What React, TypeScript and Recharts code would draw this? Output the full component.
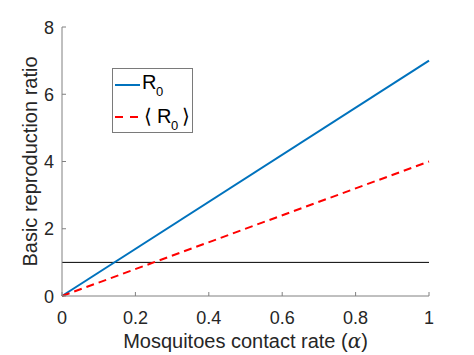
import { LineChart, Line, XAxis, YAxis, ReferenceLine, Legend } from "recharts"

const alpha = [0, 1]
const r0 = [0, 7]
const meanR0 = [0, 4]
const threshold = 1
const xTicks = [0, 0.2, 0.4, 0.6, 0.8, 1]
const yTicks = [0, 2, 4, 6, 8]

const font = "'Liberation Sans', Arial, Helvetica, sans-serif"
const axisGray = "#808080"
const textColor = "#262626"

const data = alpha.map((a, i) => ({ alpha: a, r0: r0[i], meanR0: meanR0[i] }))

function XTick(props: any) {
	const { x, y, payload } = props
	return (
		<g>
			<line x1={x} x2={x} y1={y} y2={y - 4} stroke={axisGray} />
			<text x={x} y={y + 28} textAnchor="middle" fontSize={18} fontFamily={font} fill={textColor}>
				{String(payload.value)}
			</text>
		</g>
	)
}

function YTick(props: any) {
	const { x, y, payload } = props
	return (
		<g>
			<line x1={x} x2={x + 4} y1={y} y2={y} stroke={axisGray} />
			<text x={x - 8} y={y + 6.5} textAnchor="end" fontSize={18} fontFamily={font} fill={textColor}>
				{String(payload.value)}
			</text>
		</g>
	)
}

function XTitle(props: any) {
	const vb = props.viewBox
	return (
		<text x={vb.x + vb.width / 2} y={vb.y + 52} textAnchor="middle" fontSize={20} fontFamily={font} fill={textColor}>
			Mosquitoes contact rate (<tspan fontStyle="italic" fontFamily="'DejaVu Serif', serif">α</tspan>)
		</text>
	)
}

function YTitle(props: any) {
	const vb = props.viewBox
	const cx = 37
	const cy = vb.y + vb.height / 2
	return (
		<text
			x={cx}
			y={cy}
			transform={`rotate(-90, ${cx}, ${cy})`}
			textAnchor="middle"
			fontSize={20}
			fontFamily={font}
			fill={textColor}
		>
			Basic reproduction ratio
		</text>
	)
}

function LegendBox() {
	return (
		<svg width={81} height={72} style={{ display: "block", overflow: "visible" }}>
			<rect x={0.5} y={0.5} width={80} height={64} fill="#fff" stroke="#7a7a7a" />
			<line x1={3} x2={28} y1={17} y2={17} stroke="#0072BD" strokeWidth={2} />
			<text y={21} fontSize={20} fontFamily={font} fill="#000">
				<tspan x={30}>R</tspan>
				<tspan x={44} dy={7} fontSize={13}>0</tspan>
			</text>
			<line x1={3} x2={28} y1={49} y2={49} stroke="#FF0000" strokeWidth={2} strokeDasharray="8 7" />
			<text y={55} fontSize={20} fontFamily={font} fill="#000">
				<tspan x={32}>⟨</tspan>
				<tspan x={45}>R</tspan>
				<tspan x={59} dy={7} fontSize={13}>0</tspan>
				<tspan x={70} dy={-7}>⟩</tspan>
			</text>
		</svg>
	)
}

export default function App() {
	return (
		<div style={{ position: "absolute", left: 0, top: 0, background: "#fff" }}>
			<LineChart width={474} height={355} data={data} margin={{ top: 27, right: 45, bottom: 0, left: 0 }}>
				<XAxis
					dataKey="alpha"
					type="number"
					domain={[0, 1]}
					ticks={xTicks}
					interval={0}
					height={59}
					tickSize={0}
					tickMargin={0}
					tickLine={false}
					axisLine={{ stroke: axisGray }}
					tick={<XTick />}
					label={{ content: <XTitle /> }}
				/>
				<YAxis
					type="number"
					domain={[0, 8]}
					ticks={yTicks}
					interval={0}
					width={62}
					tickSize={0}
					tickMargin={0}
					tickLine={false}
					axisLine={{ stroke: axisGray }}
					tick={<YTick />}
					label={{ content: <YTitle /> }}
				/>
				<ReferenceLine y={threshold} stroke="#000" strokeWidth={1} />
				<Line type="linear" dataKey="r0" stroke="#0072BD" strokeWidth={2} dot={false} isAnimationActive={false} />
				<Line
					type="linear"
					dataKey="meanR0"
					stroke="#FF0000"
					strokeWidth={2}
					strokeDasharray="8 5"
					dot={false}
					isAnimationActive={false}
				/>
				<Legend
					layout="vertical"
					align="center"
					verticalAlign="middle"
					content={<LegendBox />}
					wrapperStyle={{ left: 112, top: 68, width: 81, height: 72 }}
				/>
			</LineChart>
		</div>
	)
}
